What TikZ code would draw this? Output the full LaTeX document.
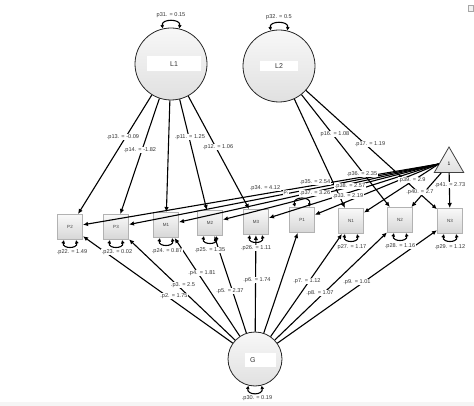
\documentclass[tikz,border=0pt]{standalone}
\usepackage{fontspec}
\setmainfont{Liberation Sans}
\usetikzlibrary{arrows.meta,shapes.geometric}
\begin{document}
\begin{tikzpicture}[x=1pt,y=-1pt,
  obs/.style={rectangle,draw=gray!60,line width=1pt,top color=gray!5,bottom color=gray!32,minimum size=25pt,inner sep=0pt,font=\fontsize{4.5}{5}\selectfont,text=black!75},
  lat/.style={circle,draw=black!85,line width=0.8pt,top color=gray!6,bottom color=gray!24,inner sep=0pt},
  latlab/.style={fill=white,inner sep=0pt,font=\fontsize{7}{8}\selectfont,text=black!80},
  conn/.style={line width=1.1pt,-{Latex[length=5pt,width=4.5pt]}},
  var/.style={line width=1.1pt,{Latex[length=3.5pt,width=4pt]}-{Latex[length=3.5pt,width=4pt]}},
  lab/.style={fill=white,inner sep=0.5pt,font=\fontsize{5.6}{6}\selectfont,text=black!80}
]
\useasboundingbox (0,0) rectangle (474,406);
\fill[gray!8] (0,402) rectangle (474,406);
\draw[gray!70,fill=gray!10,line width=0.5pt] (468,5) rectangle (473,11);

% latent variables
\node[lat,minimum size=72pt] (L1) at (171,64) {};
\node[latlab,minimum width=54pt,minimum height=15pt] (L1t) at (174,64) {L1};
\node[lat,minimum size=72pt] (L2) at (279,66) {};
\node[latlab,minimum width=38pt,minimum height=10pt] (L2t) at (279,66.5) {L2};
\node[lat,minimum size=54pt] (G) at (255,359) {};
\node[latlab,text width=21pt,inner xsep=5pt,minimum height=14pt,align=left] (Gt) at (260.5,360) {G};

% intercept triangle
\node[regular polygon,regular polygon sides=3,minimum size=34pt,draw=black!75,line width=0.8pt,top color=gray!5,bottom color=gray!25,inner sep=0pt,font=\fontsize{5}{6}\selectfont] (one) at (449,164) {1};

% observed variables
\node[obs] (P2) at (70,227) {P2};
\node[obs] (P3) at (116,227) {P3};
\node[obs] (M1) at (166,225) {M1};
\node[obs] (M2) at (210,223) {M2};
\node[obs] (M3) at (256,222) {M3};
\node[obs] (P1) at (302,220) {P1};
\node[obs] (N1) at (351,221) {N1};
\node[obs] (N2) at (400,220) {N2};
\node[obs] (N3) at (450,221) {N3};

% loadings L1
\foreach \t in {P2,P3,M1,M2,M3} \draw[conn] (L1) -- (\t);
% loadings L2
\foreach \t in {N1,N2,N3} \draw[conn] (L2) -- (\t);
% loadings G
\foreach \t in {P2,P3,M1,M2,M3,P1,N1,N2,N3} \draw[conn] (G) -- (\t);
% intercepts
\foreach \t in {P2,P3,M1,M2,M3,P1,N1} \draw[conn] (one.west) -- (\t);
\foreach \t in {N2,N3} \draw[conn] (one) -- (\t);

% variances
\foreach \t in {P2,P3,M1,M2,M3,N1,N2,N3}
  \draw[var] (\t.-115) .. controls +(-2,9) and +(2,9) .. (\t.-65);
\draw[var] (P1.118) .. controls +(-3,-11) and +(3,-11) .. (P1.62);
\draw[var] (L1.103) .. controls +(-2,-10) and +(2,-10) .. (L1.77);
\draw[var] (L2.103) .. controls +(-2,-10) and +(2,-10) .. (L2.77);
\draw[var] (G.-104) .. controls +(-2,10) and +(2,10) .. (G.-76);

% labels
\node[lab] (a13) at (123,137) {.p13. = -0.09};
\node[lab] (a14) at (140,150) {.p14. = -1.82};
\node[lab] (a11) at (190,137) {.p11. = 1.25};
\node[lab] (a12) at (218,147) {.p12. = 1.06};
\node[lab] (a16) at (335,134) {p16. = 1.08};
\node[lab] (a17) at (370,144) {.p17. = 1.19};
\node[lab] (a31) at (171,15) {p31. = 0.15};
\node[lab] (a32) at (279,17) {p32. = 0.5};
\node[lab] (a34) at (265,188) {.p34. = 4.12};
\node[lab] (a35) at (315,182) {.p35. = 2.54};
\node[lab] (a36) at (362,174) {.p36. = 2.35};
\node[lab] (ahid) at (286,193) {p;};
\node[lab] (a37) at (315,193) {.p37. = 3.26};
\node[lab] (a38) at (350,186) {.p38. = 2.57};
\node[lab] (a33) at (348,196) {.p33. = 2.19};
\node[lab] (a39) at (412,180) {.p39. = 2.9};
\node[lab] (a40) at (420,192) {.p40. = 2.7};
\node[lab] (a41) at (450,185) {.p41. = 2.73};
\node[lab] (a22) at (72,252) {.p22. = 1.49};
\node[lab] (a23) at (117,252) {.p23. = 0.02};
\node[lab] (a24) at (167,251) {.p24. = 0.87};
\node[lab] (a25) at (210,250) {.p25. = 1.35};
\node[lab] (a26) at (256,248) {.p26. = 1.11};
\node[lab] (a27) at (352,247) {p27. = 1.17};
\node[lab] (a28) at (400,246) {.p28. = 1.16};
\node[lab] (a29) at (450,247) {.p29. = 1.12};
\node[lab] (a30) at (257,398) {.p30. = 0.19};
\node[lab] (a2) at (174,296) {.p2. = 1.75};
\node[lab] (a3) at (183,285) {.p3. = 2.5};
\node[lab] (a4) at (202,273) {.p4. = 1.81};
\node[lab] (a5) at (230,291) {.p5. = 2.37};
\node[lab] (a6) at (257,280) {.p6. = 1.74};
\node[lab] (a7) at (307,281) {.p7. = 1.12};
\node[lab] (a8) at (320,293) {.p8. = 1.07};
\node[lab] (a9) at (357,282) {.p9. = 1.01};
\end{tikzpicture}
\end{document}
